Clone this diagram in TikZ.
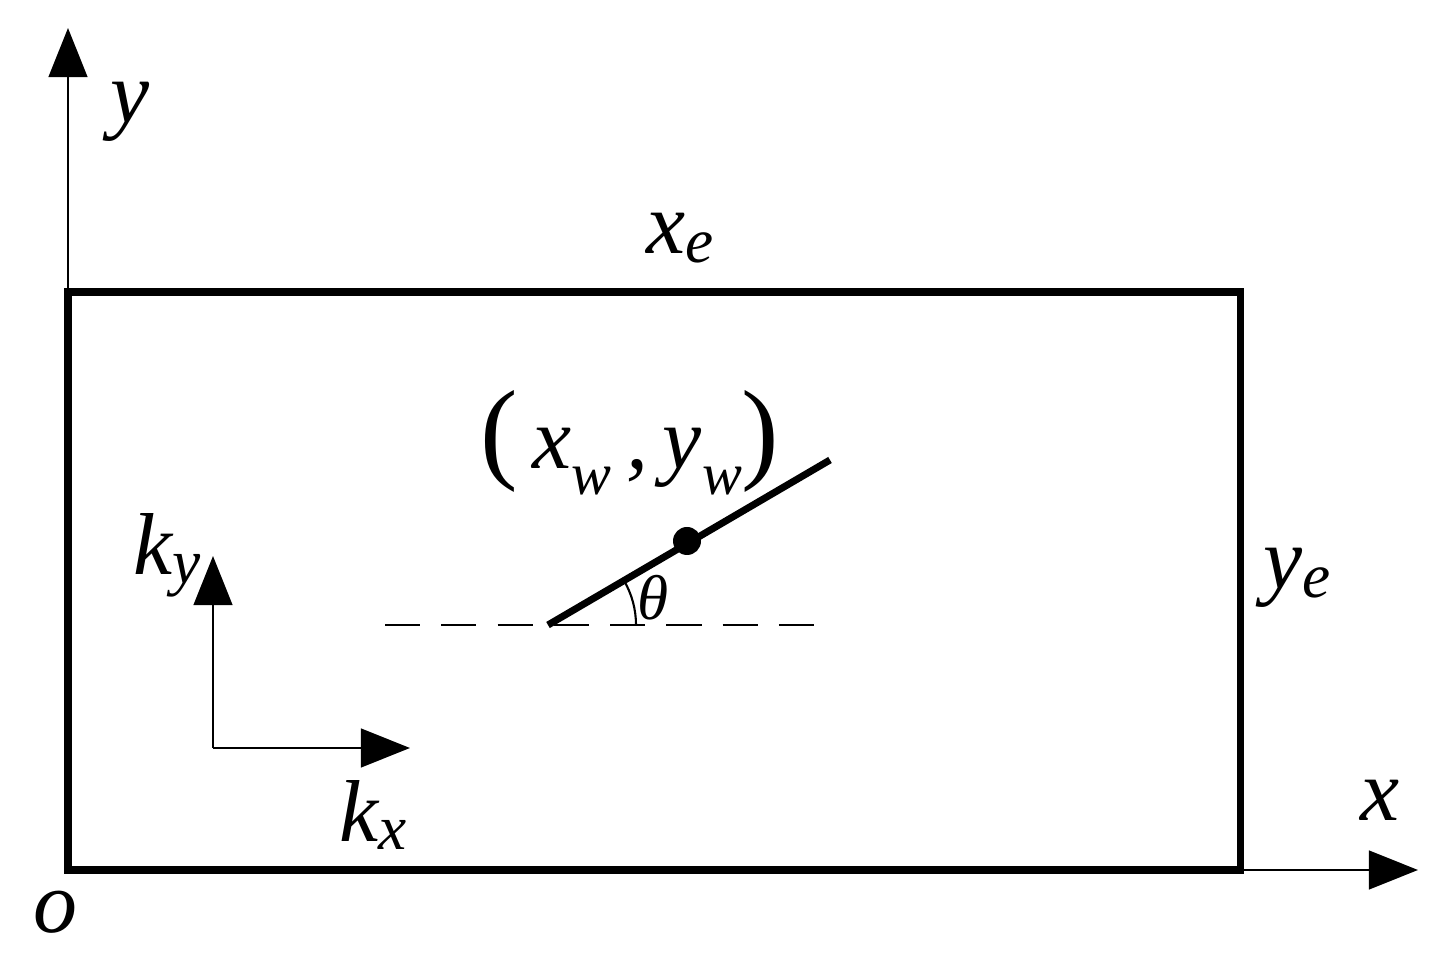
\documentclass[tikz,border=0pt]{standalone}
\usepackage{fontspec}
\setmainfont{Liberation Serif}
\usetikzlibrary{arrows.meta}
\begin{document}
\begin{tikzpicture}[x=0.01cm,y=-0.01cm,
  lbl/.style={font=\fontsize{25}{30}\selectfont\itshape,inner sep=0},
  ax/.style={line width=0.8pt,-{Triangle[length=14pt,width=11pt]}}]
\useasboundingbox (0,0) rectangle (1440,965);
\coordinate (TL) at (68,292);
\coordinate (BR) at (1240,870);
\draw[line width=2pt] (TL) rectangle (BR);
\coordinate (ytip) at (68,28);
\coordinate (xtip) at (1418,870);
\draw[ax] (TL) -- (ytip);
\draw[ax] (BR) -- (xtip);
\node[lbl] (ly) at (130,112) {y};
\node[lbl] (lxe) at (680,238) {x\raisebox{-0.1em}{\fontsize{18}{22}\selectfont e}};
\node[lbl] (lye) at (1297,578) {y\raisebox{-0.1em}{\fontsize{18}{22}\selectfont e}};
\node[lbl] (lx) at (1380,800) {x};
\node[lbl] (lo) at (55,912) {o};
\coordinate (K) at (213,748);
\coordinate (ky) at (213,556);
\coordinate (kx) at (410,748);
\draw[ax] (K) -- (ky);
\draw[ax] (K) -- (kx);
\node[lbl] (lky) at (167,555) {k\raisebox{-0.1em}{\fontsize{18}{22}\selectfont y}};
\node[lbl] (lkx) at (373,815) {k\raisebox{-0.1em}{\fontsize{18}{22}\selectfont x}};
\coordinate (d1) at (385,625);
\coordinate (d2) at (815,625);
\draw[dash pattern=on 10pt off 6pt,line width=0.6pt] (d1) -- (d2);
\coordinate (A) at (548,625);
\coordinate (B) at (830,460);
\draw[line width=2pt] (A) -- (B);
\fill (687,541) circle (14);
\draw[line width=0.6pt] (636,625) arc[start angle=0,end angle=-30.3,radius=88];
\node[lbl,font=\fontsize{18}{22}\selectfont\itshape] (lth) at (653,598) {θ};
\node[lbl] (lw) at (630,443) {{\upshape\fontsize{32}{36}\selectfont(}\,x\raisebox{-0.3em}{\fontsize{17}{20}\selectfont w}\,,\,y\raisebox{-0.3em}{\fontsize{17}{20}\selectfont w}{\upshape\fontsize{32}{36}\selectfont)}};
\end{tikzpicture}
\end{document}
